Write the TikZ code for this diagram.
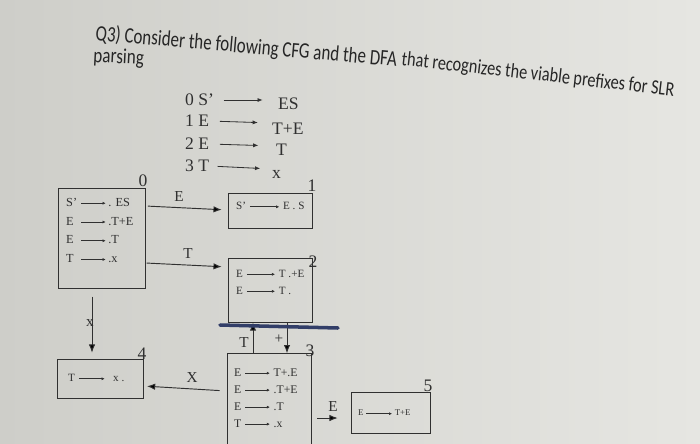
\documentclass[tikz,border=0pt]{standalone}
\usepackage{fontspec}
\setmainfont{Liberation Serif}
\newfontfamily\titlefont{Carlito}
\usetikzlibrary{arrows.meta,calc}
\definecolor{ink}{RGB}{48,48,48}
\definecolor{paperL}{RGB}{206,206,201}
\definecolor{paperR}{RGB}{230,230,226}
\definecolor{pen}{RGB}{50,62,104}
\newcommand{\ia}[1][21pt]{\tikz[baseline=-0.55ex]\draw[ink,line width=0.6pt,-{Latex[length=2.6pt,width=2.6pt]}] (0pt,0pt)--(#1,0pt);}
\begin{document}
\begin{tikzpicture}[x=0.03cm,y=-0.03cm,
  box/.style={draw=ink,line width=0.8pt,inner sep=0pt},
  items/.style={text=ink,inner sep=0pt},
  tr/.style={draw=ink,line width=0.8pt,-{Latex[length=7pt,width=5.5pt]}},
  garr/.style={draw=ink,line width=0.7pt,-{Latex[length=4.5pt,width=3.5pt]}},
  lab/.style={text=ink,inner sep=0pt,font=\fontsize{13}{13}\selectfont},
  num/.style={text=ink,inner sep=0pt,font=\fontsize{15}{15}\selectfont},
  gram/.style={text=ink,inner sep=0pt,anchor=west,font=\fontsize{15}{15}\selectfont},
  ttl/.style={anchor=base west,inner sep=0pt,text=black!85}]
\useasboundingbox (0,0) rectangle (700,443);
\shade[left color=paperL,right color=paperR] (0,0) rectangle (700,443);
\begin{scope}
\clip (0,0) rectangle (700,443);
% title
\node[ttl,rotate=-5] (titleA) at (95,40)
  {\titlefont\scalebox{1}[1.3]{\resizebox{258pt}{!}{Q3) Consider the following CFG and the DFA}}};
\node[ttl,rotate=-6.5] (titleB) at (401,65)
  {\titlefont\scalebox{1}[1.25]{\resizebox{234pt}{!}{that recognizes the viable prefixes for SLR}}};
\node[ttl,rotate=-3] (title2) at (93,62)
  {\titlefont\scalebox{1}[1.25]{\resizebox{43pt}{!}{parsing}}};
% grammar
\node[gram] (g0l) at (185,100) {0 S'};
\node[gram] (g0r) at (278,104) {ES};
\node[gram] (g1l) at (185,121) {1 E};
\node[gram] (g1r) at (272,129) {T+E};
\node[gram] (g2l) at (185,144) {2 E};
\node[gram] (g2r) at (276,150) {T};
\node[gram] (g3l) at (185,166) {3 T};
\node[gram] (g3r) at (272,174) {x};
\draw[garr,shorten <=8pt,shorten >=13pt] (g0l.east) -- (g0l.east -| g0r.west);
\draw[garr,shorten <=9pt,shorten >=12pt] (g1l.east) -- ($(g1l.east -| g1r.west)+(0,2)$);
\draw[garr,shorten <=9pt,shorten >=15pt] (g2l.east) -- ($(g2l.east -| g2r.west)+(0,2)$);
\draw[garr,shorten <=7pt,shorten >=10pt] (g3l.east) -- ($(g3l.east -| g3r.west)+(0,3)$);
% states
\node[box,minimum width=2.61cm,minimum height=3cm] (s0) at (101.5,238) {};
\node[box,minimum width=2.52cm,minimum height=1.05cm] (s1) at (270,210.5) {};
\node[box,minimum width=2.52cm,minimum height=1.92cm] (s2) at (270,290) {};
\node[box,minimum width=2.52cm,minimum height=3.2cm] (s3) at (269,407) {};
\node[box,minimum width=2.58cm,minimum height=1.17cm] (s4) at (100,378.5) {};
\node[box,minimum width=2.37cm,minimum height=1.23cm] (s5) at (390.5,412.5) {};
% state numbers
\node[num] (n0) at (143,181) {0};
\node[num] (n1) at (312,186) {1};
\node[num] (n2) at (313,262) {2};
\node[num] (n3) at (310,351) {3};
\node[num] (n4) at (142,354) {4};
\node[num] (n5) at (428,386) {5};
% items
\node[items,anchor=north west,font=\fontsize{10.5}{16}\selectfont] (s0i) at (66,193)
  {\begin{tabular}{@{}l@{\hspace{3pt}}l@{\hspace{2pt}}l@{}}S' & \ia & . ES\\ E & \ia & .T+E\\ E & \ia & .T\\ T & \ia & .x\end{tabular}};
\node[items,anchor=west,font=\fontsize{9.5}{12}\selectfont] (s1i) at (236,206) {S'\hspace{3pt}\ia[25pt]\hspace{3pt}E . S};
\node[items,anchor=north west,font=\fontsize{9.5}{14.5}\selectfont] (s2i) at (236,265)
  {\begin{tabular}{@{}l@{\hspace{3pt}}l@{\hspace{3pt}}l@{}}E & \ia[24pt] & T .+E\\ E & \ia[24pt] & T .\end{tabular}};
\node[items,anchor=north west,font=\fontsize{10}{14.5}\selectfont] (s3i) at (234,364)
  {\begin{tabular}{@{}l@{\hspace{3pt}}l@{\hspace{3pt}}l@{}}E & \ia & T+.E\\ E & \ia & .T+E\\ E & \ia & .T\\ T & \ia & .x\end{tabular}};
\node[items,anchor=west,font=\fontsize{9.5}{12}\selectfont] (s4i) at (68,378) {T\hspace{3pt}\ia[22pt]\hspace{7pt}x .};
\node[items,anchor=west,font=\fontsize{7.5}{10}\selectfont] (s5i) at (358,413) {E\hspace{2pt}\ia[22pt]\hspace{2pt}T+E};
% transitions
\draw[tr,shorten <=2pt,shorten >=5pt] (s0.east |- 0,206) -- (s1.west |- 0,210);
\node[lab] (le) at (179,197) {E};
\draw[tr,shorten <=1pt,shorten >=5pt] (s0.east |- 0,263) -- (s2.west |- 0,267);
\node[lab] (lt) at (188,254) {T};
\draw[tr,shorten <=7pt,shorten >=5pt] (s0.south -| 92,0) -- (s4.north -| 92,0);
\node[lab] (lx0) at (90,323) {x};
\draw[tr,shorten <=6pt,shorten >=3pt] (s3.west |- 0,391) -- (s4.east |- 0,386);
\node[lab] (lx3) at (192,378) {X};
\draw[tr] (s3.north -| 253,0) -- (s2.south -| 253,0);
\node[lab] (lt3) at (244,343) {T};
\draw[tr] (s2.south -| 287,0) -- (s3.north -| 287,0);
\node[lab] (lp) at (279,339) {+};
\draw[tr,shorten <=5pt,shorten >=11pt] (s3.east |- 0,418) -- (s5.west |- 0,418);
\node[lab] (le3) at (333,407) {E};
% pen stroke
\draw[pen,line width=3pt,line cap=round] (220,325) -- (338,328);
\end{scope}
\end{tikzpicture}
\end{document}
